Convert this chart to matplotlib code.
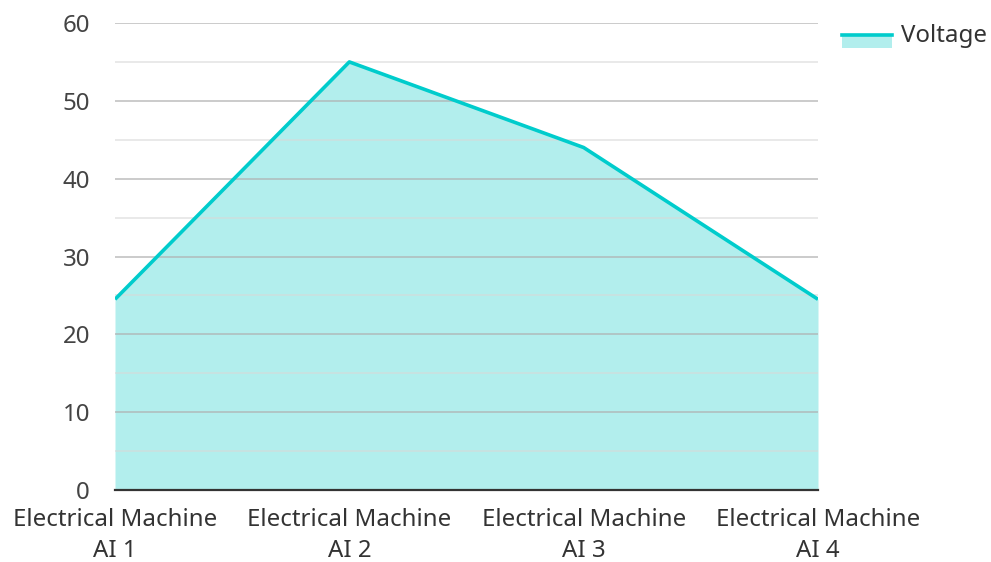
import matplotlib
matplotlib.use("Agg")
import matplotlib.pyplot as plt
from matplotlib.patches import Rectangle
from matplotlib.lines import Line2D

categories = ["Electrical Machine\nAI 1", "Electrical Machine\nAI 2",
              "Electrical Machine\nAI 3", "Electrical Machine\nAI 4"]
voltage = [24.5, 55, 44, 24.5]
series_name = "Voltage"

plt.rcParams['font.family'] = ['Noto Sans', 'DejaVu Sans']
FS = 17.3

fig = plt.figure(figsize=(9.91, 5.62), dpi=100)
ax = fig.add_axes([115/991, 72/562, (818-115)/991, (490-23)/562])

x = list(range(len(categories)))
ax.fill_between(x, voltage, 0, color='#b2eeed', lw=0, zorder=1)
ax.plot(x, voltage, color='#00cccc', lw=2.6, zorder=3, solid_capstyle='butt')

ax.set_xlim(0, len(categories) - 1)
ax.set_ylim(0, 60)
ax.set_yticks(range(0, 61, 10))
ax.set_yticks(range(5, 60, 10), minor=True)
ax.grid(True, which='major', axis='y', color='#b0b0b0', lw=1.3, alpha=0.7, zorder=2)
ax.grid(True, which='minor', axis='y', color='#d8d8d8', lw=1.3, alpha=0.6, zorder=2)
ax.set_axisbelow(False)
for s in ['top', 'right', 'left']:
    ax.spines[s].set_visible(False)
ax.spines['bottom'].set_color('#333333')
ax.spines['bottom'].set_linewidth(1.6)
ax.spines['bottom'].set_zorder(4)

ax.set_xticks(x)
ax.set_xticklabels(categories, fontsize=FS, color='#333333', linespacing=1.4)
ax.tick_params(axis='x', length=0, pad=13)
ax.tick_params(axis='y', which='both', length=0, pad=18, labelsize=FS, labelcolor='#444444')

# legend
fig.patches.append(Rectangle((842/991, 1 - 48/562), 50/991, 14/562,
                             transform=fig.transFigure, facecolor='#b2eeed', lw=0))
fig.lines.append(Line2D([842/991, 892/991], [1 - 35/562, 1 - 35/562],
                        transform=fig.transFigure, color='#00cccc', lw=2.6))
fig.text(901/991, 1 - 36/562, series_name, fontsize=FS, color='#333333',
         va='center', ha='left')

fig.savefig("out.png", dpi=100)
